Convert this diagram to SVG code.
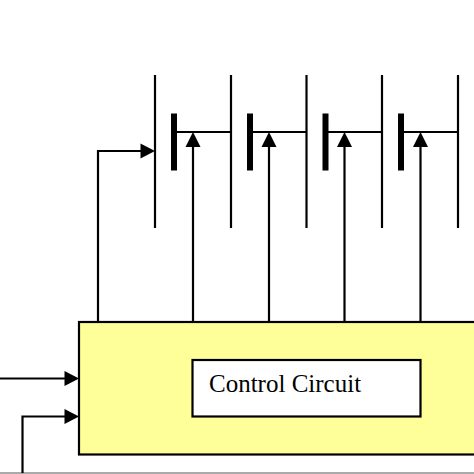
<svg xmlns="http://www.w3.org/2000/svg" width="474" height="474" viewBox="0 0 474 474">
  <style>
    .w { fill: none; stroke: #000; stroke-width: 2.200; }
    .rail { fill: none; stroke: #000; stroke-width: 2.200; }
    .gate { fill: #000; }
    .head { fill: #000; }
    .label { font-family: "Liberation Serif", "Times New Roman", serif; font-size: 25px; fill: #000; }
  </style>
  <rect width="474" height="474" fill="#fff"/>
  <rect id="bottom-edge" x="0" y="472" width="474" height="2" fill="#aaa"/>
  <g id="control-block">
    <rect x="79" y="322" width="397" height="132.500" fill="#ffff99" stroke="#000" stroke-width="2.200"/>
  </g>
  <g id="control-circuit">
    <rect x="192.500" y="360" width="228" height="56.500" fill="#fff" stroke="#000" stroke-width="2.200"/>
    <text class="label" x="209" y="392">Control Circuit</text>
  </g>
  <g id="switch-1">
    <path class="rail" d="M155 75V228"/>
    <rect class="gate" x="171" y="113.500" width="6" height="57"/>
  </g>
  <g id="switch-2">
    <path class="rail" d="M231 75V228"/>
    <rect class="gate" x="247" y="113.500" width="6" height="57"/>
  </g>
  <g id="switch-3">
    <path class="rail" d="M306.500 75V228"/>
    <rect class="gate" x="322.500" y="113.500" width="6" height="57"/>
  </g>
  <g id="switch-4">
    <path class="rail" d="M382 75V228"/>
    <rect class="gate" x="398" y="113.500" width="6" height="57"/>
  </g>
  <g id="rail-5">
    <path class="rail" d="M458 75V228"/>
  </g>
  <g id="connectors">
    <path class="w" d="M176 132H231M252 132H306.500M328 132H382M403 132H458"/>
    <path class="w" d="M98 322V151H142"/>
    <path class="head" d="M155 151L140.500 143.500V158.500Z"/>
    <path class="w" d="M193 322V146M269 322V146M344.500 322V146M420.500 322V146"/>
    <path class="head" d="M193 132L185.500 147H200.500Z"/>
    <path class="head" d="M269 132L261.500 147H276.500Z"/>
    <path class="head" d="M344.500 132L337 147H352Z"/>
    <path class="head" d="M420.500 132L413 147H428Z"/>
    <path class="w" d="M0 378.500H66"/>
    <path class="head" d="M79 378.500L64.500 371V386Z"/>
    <path class="w" d="M22.500 473V416.500H66"/>
    <path class="head" d="M79 416.500L64.500 409V424Z"/>
  </g>
</svg>
